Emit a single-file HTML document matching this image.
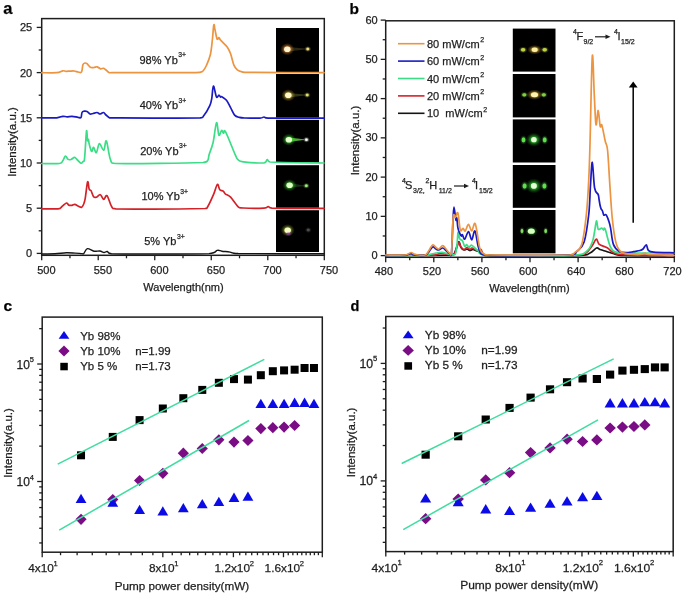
<!DOCTYPE html>
<html><head><meta charset="utf-8"><style>
html,body{margin:0;padding:0;background:#fff;overflow:hidden;}
svg{display:block;font-family:"Liberation Sans",sans-serif;will-change:transform;}
</style></head><body>
<svg width="685" height="596" viewBox="0 0 685 596" font-family="Liberation Sans, sans-serif">
<style>text{stroke:#1e1e1e;stroke-width:0.25px;}</style>
<rect width="685" height="596" fill="#fff"/>
<text x="3.30" y="14.00" font-size="16.5" text-anchor="start" font-weight="bold"  fill="#000">a</text>
<text x="349.50" y="14.30" font-size="15.5" text-anchor="start" font-weight="bold"  fill="#000">b</text>
<text x="3.60" y="310.80" font-size="15.5" text-anchor="start" font-weight="bold"  fill="#000">c</text>
<text x="350.40" y="310.80" font-size="14.5" text-anchor="start" font-weight="bold"  fill="#000">d</text>
<filter id="bl" x="-1" y="-1" width="3" height="3"><feGaussianBlur stdDeviation="0.7"/></filter>
<filter id="bl2" x="-1" y="-1" width="3" height="3"><feGaussianBlur stdDeviation="1.2"/></filter>
<rect x="276" y="28" width="43" height="44.2" fill="#000"/>
<rect x="276" y="74" width="43" height="43.599999999999994" fill="#000"/>
<rect x="276" y="119.8" width="43" height="42.8" fill="#000"/>
<rect x="276" y="165.2" width="43" height="42.60000000000002" fill="#000"/>
<rect x="276" y="210.2" width="43" height="41.80000000000001" fill="#000"/>
<polygon points="287.3,47.0 305.3,48.6 305.3,49.4 287.3,51.400000000000006" fill="#908040" opacity="0.3" filter="url(#bl)"/>
<radialGradient id="g12"><stop offset="0" stop-color="#ffa040" stop-opacity="1.0"/><stop offset="0.4" stop-color="#ffa040" stop-opacity="0.7"/><stop offset="0.7" stop-color="#ffa040" stop-opacity="0.25"/><stop offset="1" stop-color="#ffa040" stop-opacity="0"/></radialGradient>
<ellipse cx="287.3" cy="49.2" rx="7" ry="6.2" fill="url(#g12)"/>
<radialGradient id="g14"><stop offset="0" stop-color="#f0e080" stop-opacity="0.8"/><stop offset="0.4" stop-color="#f0e080" stop-opacity="0.5599999999999999"/><stop offset="0.7" stop-color="#f0e080" stop-opacity="0.2"/><stop offset="1" stop-color="#f0e080" stop-opacity="0"/></radialGradient>
<ellipse cx="307.8" cy="49" rx="3.5" ry="3" fill="url(#g14)"/>
<ellipse cx="287.3" cy="49.2" rx="3.2" ry="2.8" fill="#fff4d0" filter="url(#bl)"/>
<ellipse cx="307.8" cy="49" rx="1.3" ry="1.2" fill="#f0e080" filter="url(#bl)"/>
<polygon points="288.3,93.1 304.7,94.6 304.7,95.4 288.3,97.5" fill="#a0b040" opacity="0.3" filter="url(#bl)"/>
<radialGradient id="g19"><stop offset="0" stop-color="#e8c040" stop-opacity="1.0"/><stop offset="0.4" stop-color="#e8c040" stop-opacity="0.7"/><stop offset="0.7" stop-color="#e8c040" stop-opacity="0.25"/><stop offset="1" stop-color="#e8c040" stop-opacity="0"/></radialGradient>
<ellipse cx="288.3" cy="95.3" rx="7" ry="6.2" fill="url(#g19)"/>
<radialGradient id="g21"><stop offset="0" stop-color="#e0e070" stop-opacity="0.8"/><stop offset="0.4" stop-color="#e0e070" stop-opacity="0.5599999999999999"/><stop offset="0.7" stop-color="#e0e070" stop-opacity="0.2"/><stop offset="1" stop-color="#e0e070" stop-opacity="0"/></radialGradient>
<ellipse cx="307.2" cy="95" rx="3.5" ry="3" fill="url(#g21)"/>
<ellipse cx="288.3" cy="95.3" rx="3.2" ry="2.8" fill="#fff8c8" filter="url(#bl)"/>
<ellipse cx="307.2" cy="95" rx="1.3" ry="1.2" fill="#e0e070" filter="url(#bl)"/>
<polygon points="288.9,137.5 303.9,139.29999999999998 303.9,140.1 288.9,141.89999999999998" fill="#60d040" opacity="0.8" filter="url(#bl)"/>
<radialGradient id="g26"><stop offset="0" stop-color="#40e030" stop-opacity="1.0"/><stop offset="0.4" stop-color="#40e030" stop-opacity="0.7"/><stop offset="0.7" stop-color="#40e030" stop-opacity="0.25"/><stop offset="1" stop-color="#40e030" stop-opacity="0"/></radialGradient>
<ellipse cx="288.9" cy="139.7" rx="7" ry="6.2" fill="url(#g26)"/>
<radialGradient id="g28"><stop offset="0" stop-color="#f0fff0" stop-opacity="0.8"/><stop offset="0.4" stop-color="#f0fff0" stop-opacity="0.5599999999999999"/><stop offset="0.7" stop-color="#f0fff0" stop-opacity="0.2"/><stop offset="1" stop-color="#f0fff0" stop-opacity="0"/></radialGradient>
<ellipse cx="306.4" cy="139.7" rx="3.5" ry="3" fill="url(#g28)"/>
<ellipse cx="288.9" cy="139.7" rx="3.2" ry="2.8" fill="#e8ffd0" filter="url(#bl)"/>
<ellipse cx="306.4" cy="139.7" rx="1.3" ry="1.2" fill="#f0fff0" filter="url(#bl)"/>
<polygon points="289.6,183.10000000000002 303.8,185.4 303.8,186.20000000000002 289.6,187.5" fill="#40a030" opacity="0.3" filter="url(#bl)"/>
<radialGradient id="g33"><stop offset="0" stop-color="#40d030" stop-opacity="1.0"/><stop offset="0.4" stop-color="#40d030" stop-opacity="0.7"/><stop offset="0.7" stop-color="#40d030" stop-opacity="0.25"/><stop offset="1" stop-color="#40d030" stop-opacity="0"/></radialGradient>
<ellipse cx="289.6" cy="185.3" rx="7" ry="6.2" fill="url(#g33)"/>
<radialGradient id="g35"><stop offset="0" stop-color="#a0f080" stop-opacity="0.8"/><stop offset="0.4" stop-color="#a0f080" stop-opacity="0.5599999999999999"/><stop offset="0.7" stop-color="#a0f080" stop-opacity="0.2"/><stop offset="1" stop-color="#a0f080" stop-opacity="0"/></radialGradient>
<ellipse cx="306.3" cy="185.8" rx="3.5" ry="3" fill="url(#g35)"/>
<ellipse cx="289.6" cy="185.3" rx="3.2" ry="2.8" fill="#e0ffc8" filter="url(#bl)"/>
<ellipse cx="306.3" cy="185.8" rx="1.3" ry="1.2" fill="#a0f080" filter="url(#bl)"/>
<radialGradient id="g39"><stop offset="0" stop-color="#b0c040" stop-opacity="1.0"/><stop offset="0.4" stop-color="#b0c040" stop-opacity="0.7"/><stop offset="0.7" stop-color="#b0c040" stop-opacity="0.25"/><stop offset="1" stop-color="#b0c040" stop-opacity="0"/></radialGradient>
<ellipse cx="287.7" cy="230.2" rx="7" ry="6.2" fill="url(#g39)"/>
<radialGradient id="g41"><stop offset="0" stop-color="#505050" stop-opacity="0.8"/><stop offset="0.4" stop-color="#505050" stop-opacity="0.5599999999999999"/><stop offset="0.7" stop-color="#505050" stop-opacity="0.2"/><stop offset="1" stop-color="#505050" stop-opacity="0"/></radialGradient>
<ellipse cx="308.3" cy="230" rx="3.5" ry="3" fill="url(#g41)"/>
<ellipse cx="287.7" cy="230.2" rx="3.2" ry="2.8" fill="#f4ffc0" filter="url(#bl)"/>
<ellipse cx="308.3" cy="230" rx="1.3" ry="1.2" fill="#505050" filter="url(#bl)"/>
<radialGradient id="g45"><stop offset="0" stop-color="#a040c0" stop-opacity="0.8"/><stop offset="0.4" stop-color="#a040c0" stop-opacity="0.5599999999999999"/><stop offset="0.7" stop-color="#a040c0" stop-opacity="0.2"/><stop offset="1" stop-color="#a040c0" stop-opacity="0"/></radialGradient>
<ellipse cx="288.5" cy="233.8" rx="3.5" ry="2.5" fill="url(#g45)"/>
<rect x="41.7" y="18.6" width="282.6" height="236.70000000000002" fill="none" stroke="#1e1e1e" stroke-width="1.5"/>
<line x1="36.70" y1="253.40" x2="41.70" y2="253.40" stroke="#1e1e1e" stroke-width="1.3"/>
<text x="32.20" y="257.40" font-size="11" text-anchor="end" font-weight="normal" fill="#1e1e1e" >0</text>
<line x1="36.70" y1="208.20" x2="41.70" y2="208.20" stroke="#1e1e1e" stroke-width="1.3"/>
<text x="32.20" y="212.20" font-size="11" text-anchor="end" font-weight="normal" fill="#1e1e1e" >5</text>
<line x1="36.70" y1="163.00" x2="41.70" y2="163.00" stroke="#1e1e1e" stroke-width="1.3"/>
<text x="32.20" y="167.00" font-size="11" text-anchor="end" font-weight="normal" fill="#1e1e1e" >10</text>
<line x1="36.70" y1="117.80" x2="41.70" y2="117.80" stroke="#1e1e1e" stroke-width="1.3"/>
<text x="32.20" y="121.80" font-size="11" text-anchor="end" font-weight="normal" fill="#1e1e1e" >15</text>
<line x1="36.70" y1="72.60" x2="41.70" y2="72.60" stroke="#1e1e1e" stroke-width="1.3"/>
<text x="32.20" y="76.60" font-size="11" text-anchor="end" font-weight="normal" fill="#1e1e1e" >20</text>
<line x1="36.70" y1="27.40" x2="41.70" y2="27.40" stroke="#1e1e1e" stroke-width="1.3"/>
<text x="32.20" y="31.40" font-size="11" text-anchor="end" font-weight="normal" fill="#1e1e1e" >25</text>
<line x1="38.70" y1="230.80" x2="41.70" y2="230.80" stroke="#1e1e1e" stroke-width="1.3"/>
<line x1="38.70" y1="185.60" x2="41.70" y2="185.60" stroke="#1e1e1e" stroke-width="1.3"/>
<line x1="38.70" y1="140.40" x2="41.70" y2="140.40" stroke="#1e1e1e" stroke-width="1.3"/>
<line x1="38.70" y1="95.20" x2="41.70" y2="95.20" stroke="#1e1e1e" stroke-width="1.3"/>
<line x1="38.70" y1="50.00" x2="41.70" y2="50.00" stroke="#1e1e1e" stroke-width="1.3"/>
<line x1="41.70" y1="255.30" x2="41.70" y2="260.30" stroke="#1e1e1e" stroke-width="1.3"/>
<text x="46.40" y="273.80" font-size="11" text-anchor="middle" font-weight="normal" fill="#1e1e1e" >500</text>
<line x1="98.22" y1="255.30" x2="98.22" y2="260.30" stroke="#1e1e1e" stroke-width="1.3"/>
<text x="102.92" y="273.80" font-size="11" text-anchor="middle" font-weight="normal" fill="#1e1e1e" >550</text>
<line x1="154.74" y1="255.30" x2="154.74" y2="260.30" stroke="#1e1e1e" stroke-width="1.3"/>
<text x="159.44" y="273.80" font-size="11" text-anchor="middle" font-weight="normal" fill="#1e1e1e" >600</text>
<line x1="211.26" y1="255.30" x2="211.26" y2="260.30" stroke="#1e1e1e" stroke-width="1.3"/>
<text x="215.96" y="273.80" font-size="11" text-anchor="middle" font-weight="normal" fill="#1e1e1e" >650</text>
<line x1="267.78" y1="255.30" x2="267.78" y2="260.30" stroke="#1e1e1e" stroke-width="1.3"/>
<text x="272.48" y="273.80" font-size="11" text-anchor="middle" font-weight="normal" fill="#1e1e1e" >700</text>
<line x1="324.30" y1="255.30" x2="324.30" y2="260.30" stroke="#1e1e1e" stroke-width="1.3"/>
<text x="329.00" y="273.80" font-size="11" text-anchor="middle" font-weight="normal" fill="#1e1e1e" >750</text>
<line x1="69.96" y1="255.30" x2="69.96" y2="258.30" stroke="#1e1e1e" stroke-width="1.3"/>
<line x1="126.48" y1="255.30" x2="126.48" y2="258.30" stroke="#1e1e1e" stroke-width="1.3"/>
<line x1="183.00" y1="255.30" x2="183.00" y2="258.30" stroke="#1e1e1e" stroke-width="1.3"/>
<line x1="239.52" y1="255.30" x2="239.52" y2="258.30" stroke="#1e1e1e" stroke-width="1.3"/>
<line x1="296.04" y1="255.30" x2="296.04" y2="258.30" stroke="#1e1e1e" stroke-width="1.3"/>
<text x="183.50" y="291.00" font-size="11" text-anchor="middle" font-weight="normal" fill="#1e1e1e" >Wavelength(nm)</text>
<text x="0.00" y="0.00" font-size="11.5" text-anchor="middle" font-weight="normal" fill="#1e1e1e" transform="translate(16.2,142) rotate(-90)">Intensity(a.u.)</text>
<g transform="translate(0,0.5)">
<path d="M41.70,253.50 C43.92,253.47 50.90,253.50 55.00,253.30 C59.10,253.10 62.97,252.42 66.30,252.30 C69.63,252.18 72.38,252.47 75.00,252.60 C77.62,252.73 80.53,253.03 82.00,253.10 C83.47,253.17 82.90,253.83 83.80,253.00 C84.70,252.17 85.70,248.48 87.40,248.10 C89.10,247.72 91.92,250.30 94.00,250.70 C96.08,251.10 98.23,250.28 99.90,250.50 C101.57,250.72 102.78,251.92 104.00,252.00 C105.22,252.08 105.95,250.78 107.20,251.00 C108.45,251.22 107.20,252.95 111.50,253.30 C128.47,253.65 191.38,253.67 209.00,253.10 C217.20,252.53 215.05,250.30 217.20,249.90 C219.35,249.50 219.77,250.42 221.90,250.70 C224.03,250.98 227.28,251.22 230.00,251.60 C232.72,251.98 230.00,252.72 238.20,253.00 C253.87,253.28 309.70,253.25 324.00,253.30" fill="none" stroke="#141414" stroke-width="1.4" stroke-linejoin="round" stroke-linecap="round" />
<path d="M41.70,208.30 C44.42,208.30 54.62,208.68 58.00,208.30 C61.38,207.92 60.60,206.97 62.00,206.00 C63.40,205.03 65.27,202.73 66.40,202.50 C67.53,202.27 67.87,204.22 68.80,204.60 C69.73,204.98 71.00,204.93 72.00,204.80 C73.00,204.67 73.80,203.68 74.80,203.80 C75.80,203.92 76.88,204.98 78.00,205.50 C79.12,206.02 80.58,207.15 81.50,206.90 C82.42,206.65 82.88,205.45 83.50,204.00 C84.12,202.55 84.52,201.97 85.20,198.20 C85.88,194.43 86.93,182.97 87.60,181.40 C88.27,179.83 88.63,187.35 89.20,188.80 C89.77,190.25 90.27,188.87 91.00,190.10 C91.73,191.33 92.72,195.08 93.60,196.20 C94.48,197.32 95.18,197.13 96.30,196.80 C97.42,196.47 99.07,193.85 100.30,194.20 C101.53,194.55 102.58,198.73 103.70,198.90 C104.82,199.07 105.67,193.98 107.00,195.20 C108.33,196.42 110.23,204.02 111.70,206.20 C113.17,208.38 111.70,208.00 115.80,208.30 C131.35,208.60 189.67,208.38 205.00,208.00 C207.80,207.62 206.33,208.45 207.80,206.00 C209.27,203.55 212.20,196.98 213.80,193.30 C215.40,189.62 216.40,184.57 217.40,183.90 C218.40,183.23 218.83,188.18 219.80,189.30 C220.77,190.42 222.30,189.93 223.20,190.60 C224.10,191.27 223.97,192.28 225.20,193.30 C226.43,194.32 228.47,194.57 230.60,196.70 C232.73,198.83 235.88,204.30 238.00,206.10 C240.12,207.90 238.97,207.25 243.30,207.50 C247.63,207.75 259.85,207.83 264.00,207.60 C268.15,207.37 266.87,206.10 268.20,206.10 C269.53,206.10 268.20,207.32 272.00,207.60 C281.30,207.88 315.33,207.77 324.00,207.80" fill="none" stroke="#D42128" stroke-width="1.7" stroke-linejoin="round" stroke-linecap="round" />
<path d="M41.70,163.00 C44.65,163.00 55.88,163.45 59.40,163.00 C62.80,162.55 61.80,161.53 62.80,160.30 C63.80,159.07 64.52,155.83 65.40,155.60 C66.28,155.37 67.17,158.33 68.10,158.90 C69.03,159.47 69.95,159.33 71.00,159.00 C72.05,158.67 73.40,156.90 74.40,156.90 C75.40,156.90 75.92,158.03 77.00,159.00 C78.08,159.97 79.90,162.37 80.90,162.70 C81.90,163.03 82.38,161.85 83.00,161.00 C83.62,160.15 84.02,162.68 84.60,157.60 C85.18,152.52 86.02,133.43 86.50,130.50 C86.98,127.57 87.17,138.58 87.50,140.00 C87.83,141.42 88.22,138.42 88.50,139.00 C88.78,139.58 88.68,141.52 89.20,143.50 C89.72,145.48 90.87,150.35 91.60,150.90 C92.33,151.45 92.82,146.58 93.60,146.80 C94.38,147.02 95.33,152.82 96.30,152.20 C97.27,151.58 98.17,143.50 99.40,143.10 C100.63,142.70 102.53,150.25 103.70,149.80 C104.87,149.35 105.28,138.88 106.40,140.40 C107.52,141.92 108.83,155.13 110.40,158.90 C111.97,162.67 110.40,162.48 115.80,163.00 C131.23,163.52 187.67,162.53 203.00,162.00 C207.80,161.47 206.78,161.10 207.80,159.80 C208.82,158.50 208.22,157.17 209.10,154.20 C209.98,151.23 211.87,147.33 213.10,142.00 C214.33,136.67 215.53,123.42 216.50,122.20 C217.47,120.98 218.05,133.40 218.90,134.70 C219.75,136.00 220.83,130.33 221.60,130.00 C222.37,129.67 222.83,132.47 223.50,132.70 C224.17,132.93 223.63,127.78 225.60,131.40 C227.57,135.02 233.23,149.78 235.30,154.40 C237.37,159.02 236.67,157.93 238.00,159.10 C239.33,160.27 238.97,160.87 243.30,161.40 C247.63,161.93 260.02,162.68 264.00,162.30 C267.20,161.92 266.20,159.23 267.20,159.10 C268.20,158.97 267.20,160.93 270.00,161.50 C279.47,162.07 315.00,162.33 324.00,162.50" fill="none" stroke="#3BDE86" stroke-width="1.7" stroke-linejoin="round" stroke-linecap="round" />
<path d="M41.70,117.40 C44.20,117.38 53.20,117.57 56.70,117.30 C60.20,117.03 60.98,115.97 62.70,115.80 C64.42,115.63 65.45,116.30 67.00,116.30 C68.55,116.30 70.17,115.72 72.00,115.80 C73.83,115.88 76.50,116.60 78.00,116.80 C79.50,117.00 80.33,117.80 81.00,117.00 C81.67,116.20 81.50,113.05 82.00,112.00 C82.50,110.95 83.17,110.88 84.00,110.70 C84.83,110.52 86.00,110.43 87.00,110.90 C88.00,111.37 89.00,113.15 90.00,113.50 C91.00,113.85 91.83,113.25 93.00,113.00 C94.17,112.75 95.83,111.92 97.00,112.00 C98.17,112.08 98.92,113.50 100.00,113.50 C101.08,113.50 102.50,111.83 103.50,112.00 C104.50,112.17 105.08,113.67 106.00,114.50 C106.92,115.33 108.00,116.53 109.00,117.00 C110.00,117.47 109.00,117.23 112.00,117.30 C127.17,117.37 184.72,117.73 200.00,117.40 C203.70,117.07 202.07,117.33 203.70,115.30 C205.33,113.27 208.45,108.12 209.80,105.20 C211.15,102.28 211.20,101.08 211.80,97.80 C212.40,94.52 212.62,85.72 213.40,85.50 C214.18,85.28 215.58,95.00 216.50,96.50 C217.42,98.00 218.23,94.50 218.90,94.50 C219.57,94.50 220.02,96.22 220.50,96.50 C220.98,96.78 220.80,95.65 221.80,96.20 C222.80,96.75 225.03,97.97 226.50,99.80 C227.97,101.63 229.25,104.73 230.60,107.20 C231.95,109.67 233.15,112.98 234.60,114.60 C236.05,116.22 237.57,116.42 239.30,116.90 C241.03,117.38 241.55,117.38 245.00,117.50 C248.45,117.62 256.83,117.77 260.00,117.60 C263.17,117.43 262.67,116.50 264.00,116.50 C265.33,116.50 264.00,117.40 268.00,117.60 C278.00,117.80 314.67,117.68 324.00,117.70" fill="none" stroke="#1A1AC4" stroke-width="1.7" stroke-linejoin="round" stroke-linecap="round" />
<path d="M41.70,72.20 C44.20,72.20 53.19,72.52 56.70,72.20 C60.21,71.88 61.20,70.53 62.75,70.30 C64.30,70.07 64.79,70.75 66.00,70.80 C67.21,70.85 68.67,70.65 70.00,70.60 C71.33,70.55 72.67,70.35 74.00,70.50 C75.33,70.65 76.85,71.25 78.00,71.50 C79.15,71.75 80.23,72.25 80.90,72.00 C81.57,71.75 81.65,71.33 82.00,70.00 C82.35,68.67 82.47,65.25 83.00,64.00 C83.53,62.75 84.53,62.63 85.20,62.50 C85.87,62.37 86.15,62.48 87.00,63.20 C87.85,63.92 89.13,66.17 90.30,66.80 C91.47,67.43 92.88,67.08 94.00,67.00 C95.12,66.92 95.92,66.08 97.00,66.30 C98.08,66.52 99.38,68.05 100.50,68.30 C101.62,68.55 102.78,67.60 103.70,67.80 C104.62,68.00 105.12,68.80 106.00,69.50 C106.88,70.20 108.00,71.55 109.00,72.00 C110.00,72.45 109.00,72.18 112.00,72.20 C126.33,72.22 180.33,72.17 195.00,72.10 C200.00,72.03 198.67,72.07 200.00,71.80 C201.33,71.53 201.93,71.63 203.00,70.50 C204.07,69.37 205.17,67.75 206.40,65.00 C207.63,62.25 209.40,58.33 210.40,54.00 C211.40,49.67 211.83,43.93 212.40,39.00 C212.97,34.07 213.35,25.93 213.80,24.40 C214.25,22.87 214.55,27.45 215.10,29.80 C215.65,32.15 216.47,37.30 217.10,38.50 C217.73,39.70 218.33,36.83 218.90,37.00 C219.47,37.17 219.12,37.92 220.50,39.50 C221.88,41.08 225.52,44.20 227.20,46.50 C228.88,48.80 229.48,50.27 230.60,53.30 C231.72,56.33 232.78,62.02 233.90,64.70 C235.02,67.38 235.95,68.28 237.30,69.40 C238.65,70.52 239.88,70.98 242.00,71.40 C244.12,71.82 242.00,71.77 250.00,71.90 C263.67,72.03 311.67,72.15 324.00,72.20" fill="none" stroke="#EC9440" stroke-width="1.7" stroke-linejoin="round" stroke-linecap="round" />
</g>
<text x="139.5" y="64" font-size="11" fill="#1e1e1e">98% Yb<tspan font-size="6.8" dy="-6.6" dx="0.5">3+</tspan></text>
<text x="139.7" y="109.3" font-size="11" fill="#1e1e1e">40% Yb<tspan font-size="6.8" dy="-6.6" dx="0.5">3+</tspan></text>
<text x="140.2" y="154.8" font-size="11" fill="#1e1e1e">20% Yb<tspan font-size="6.8" dy="-6.6" dx="0.5">3+</tspan></text>
<text x="141.5" y="200.1" font-size="11" fill="#1e1e1e">10% Yb<tspan font-size="6.8" dy="-6.6" dx="0.5">3+</tspan></text>
<text x="144.2" y="245.3" font-size="11" fill="#1e1e1e">5% Yb<tspan font-size="6.8" dy="-6.6" dx="0.5">3+</tspan></text>
<rect x="512.8" y="28.6" width="42.7" height="42.99999999999999" fill="#000"/>
<rect x="512.8" y="74" width="42.7" height="43.400000000000006" fill="#000"/>
<rect x="512.8" y="119.4" width="42.7" height="43.099999999999994" fill="#000"/>
<rect x="512.8" y="165" width="42.7" height="42.80000000000001" fill="#000"/>
<rect x="512.8" y="210" width="42.7" height="43.30000000000001" fill="#000"/>
<radialGradient id="g101"><stop offset="0" stop-color="#e0b030" stop-opacity="1.0"/><stop offset="0.4" stop-color="#e0b030" stop-opacity="0.7"/><stop offset="0.7" stop-color="#e0b030" stop-opacity="0.25"/><stop offset="1" stop-color="#e0b030" stop-opacity="0"/></radialGradient>
<ellipse cx="534.7" cy="49.7" rx="7.5" ry="4.8" fill="url(#g101)"/>
<radialGradient id="g103"><stop offset="0" stop-color="#c0d040" stop-opacity="0.8"/><stop offset="0.4" stop-color="#c0d040" stop-opacity="0.5599999999999999"/><stop offset="0.7" stop-color="#c0d040" stop-opacity="0.2"/><stop offset="1" stop-color="#c0d040" stop-opacity="0"/></radialGradient>
<ellipse cx="523.1" cy="49.8" rx="4.4" ry="3.4" fill="url(#g103)"/>
<radialGradient id="g105"><stop offset="0" stop-color="#c0d040" stop-opacity="0.8"/><stop offset="0.4" stop-color="#c0d040" stop-opacity="0.5599999999999999"/><stop offset="0.7" stop-color="#c0d040" stop-opacity="0.2"/><stop offset="1" stop-color="#c0d040" stop-opacity="0"/></radialGradient>
<ellipse cx="544.7" cy="49.8" rx="4.4" ry="3.4" fill="url(#g105)"/>
<ellipse cx="534.7" cy="49.7" rx="3" ry="2.2" fill="#fff0a0" filter="url(#bl)"/>
<ellipse cx="523.1" cy="49.8" rx="2.2" ry="1.7" fill="#c0d040" filter="url(#bl)"/>
<ellipse cx="544.7" cy="49.8" rx="2.2" ry="1.7" fill="#c0d040" filter="url(#bl)"/>
<radialGradient id="g110"><stop offset="0" stop-color="#e8b830" stop-opacity="1.0"/><stop offset="0.4" stop-color="#e8b830" stop-opacity="0.7"/><stop offset="0.7" stop-color="#e8b830" stop-opacity="0.25"/><stop offset="1" stop-color="#e8b830" stop-opacity="0"/></radialGradient>
<ellipse cx="534.5" cy="94.7" rx="8" ry="5.2" fill="url(#g110)"/>
<radialGradient id="g112"><stop offset="0" stop-color="#80d040" stop-opacity="0.8"/><stop offset="0.4" stop-color="#80d040" stop-opacity="0.5599999999999999"/><stop offset="0.7" stop-color="#80d040" stop-opacity="0.2"/><stop offset="1" stop-color="#80d040" stop-opacity="0"/></radialGradient>
<ellipse cx="524.3" cy="94.8" rx="4.0" ry="3.2" fill="url(#g112)"/>
<radialGradient id="g114"><stop offset="0" stop-color="#80d040" stop-opacity="0.8"/><stop offset="0.4" stop-color="#80d040" stop-opacity="0.5599999999999999"/><stop offset="0.7" stop-color="#80d040" stop-opacity="0.2"/><stop offset="1" stop-color="#80d040" stop-opacity="0"/></radialGradient>
<ellipse cx="543.8" cy="94.8" rx="4.0" ry="3.2" fill="url(#g114)"/>
<ellipse cx="534.5" cy="94.7" rx="3.6" ry="2.5" fill="#fff4b0" filter="url(#bl)"/>
<ellipse cx="524.3" cy="94.8" rx="2.0" ry="1.6" fill="#80d040" filter="url(#bl)"/>
<ellipse cx="543.8" cy="94.8" rx="2.0" ry="1.6" fill="#80d040" filter="url(#bl)"/>
<radialGradient id="g119"><stop offset="0" stop-color="#30d030" stop-opacity="1.0"/><stop offset="0.4" stop-color="#30d030" stop-opacity="0.7"/><stop offset="0.7" stop-color="#30d030" stop-opacity="0.25"/><stop offset="1" stop-color="#30d030" stop-opacity="0"/></radialGradient>
<ellipse cx="533.9" cy="139.7" rx="8" ry="7" fill="url(#g119)"/>
<radialGradient id="g121"><stop offset="0" stop-color="#60e050" stop-opacity="0.8"/><stop offset="0.4" stop-color="#60e050" stop-opacity="0.5599999999999999"/><stop offset="0.7" stop-color="#60e050" stop-opacity="0.2"/><stop offset="1" stop-color="#60e050" stop-opacity="0"/></radialGradient>
<ellipse cx="523.5" cy="139.9" rx="3.6" ry="4.8" fill="url(#g121)"/>
<radialGradient id="g123"><stop offset="0" stop-color="#60e050" stop-opacity="0.8"/><stop offset="0.4" stop-color="#60e050" stop-opacity="0.5599999999999999"/><stop offset="0.7" stop-color="#60e050" stop-opacity="0.2"/><stop offset="1" stop-color="#60e050" stop-opacity="0"/></radialGradient>
<ellipse cx="544.7" cy="139.9" rx="3.6" ry="4.8" fill="url(#g123)"/>
<ellipse cx="533.9" cy="139.7" rx="2.8" ry="2.6" fill="#e8ffd8" filter="url(#bl)"/>
<ellipse cx="523.5" cy="139.9" rx="1.8" ry="2.4" fill="#60e050" filter="url(#bl)"/>
<ellipse cx="544.7" cy="139.9" rx="1.8" ry="2.4" fill="#60e050" filter="url(#bl)"/>
<radialGradient id="g128"><stop offset="0" stop-color="#30d030" stop-opacity="1.0"/><stop offset="0.4" stop-color="#30d030" stop-opacity="0.7"/><stop offset="0.7" stop-color="#30d030" stop-opacity="0.25"/><stop offset="1" stop-color="#30d030" stop-opacity="0"/></radialGradient>
<ellipse cx="533.9" cy="185.9" rx="8.5" ry="7.5" fill="url(#g128)"/>
<radialGradient id="g130"><stop offset="0" stop-color="#60e050" stop-opacity="0.8"/><stop offset="0.4" stop-color="#60e050" stop-opacity="0.5599999999999999"/><stop offset="0.7" stop-color="#60e050" stop-opacity="0.2"/><stop offset="1" stop-color="#60e050" stop-opacity="0"/></radialGradient>
<ellipse cx="524.6" cy="185.9" rx="3.8" ry="5.0" fill="url(#g130)"/>
<radialGradient id="g132"><stop offset="0" stop-color="#60e050" stop-opacity="0.8"/><stop offset="0.4" stop-color="#60e050" stop-opacity="0.5599999999999999"/><stop offset="0.7" stop-color="#60e050" stop-opacity="0.2"/><stop offset="1" stop-color="#60e050" stop-opacity="0"/></radialGradient>
<ellipse cx="544.4" cy="185.9" rx="3.8" ry="5.0" fill="url(#g132)"/>
<ellipse cx="533.9" cy="185.9" rx="3" ry="2.8" fill="#e8ffd8" filter="url(#bl)"/>
<ellipse cx="524.6" cy="185.9" rx="1.9" ry="2.5" fill="#60e050" filter="url(#bl)"/>
<ellipse cx="544.4" cy="185.9" rx="1.9" ry="2.5" fill="#60e050" filter="url(#bl)"/>
<radialGradient id="g137"><stop offset="0" stop-color="#30c030" stop-opacity="1.0"/><stop offset="0.4" stop-color="#30c030" stop-opacity="0.7"/><stop offset="0.7" stop-color="#30c030" stop-opacity="0.25"/><stop offset="1" stop-color="#30c030" stop-opacity="0"/></radialGradient>
<ellipse cx="531.3" cy="231.2" rx="6.5" ry="5" fill="url(#g137)"/>
<radialGradient id="g139"><stop offset="0" stop-color="#80e060" stop-opacity="0.8"/><stop offset="0.4" stop-color="#80e060" stop-opacity="0.5599999999999999"/><stop offset="0.7" stop-color="#80e060" stop-opacity="0.2"/><stop offset="1" stop-color="#80e060" stop-opacity="0"/></radialGradient>
<ellipse cx="522" cy="231" rx="2.6" ry="4.0" fill="url(#g139)"/>
<radialGradient id="g141"><stop offset="0" stop-color="#80e060" stop-opacity="0.8"/><stop offset="0.4" stop-color="#80e060" stop-opacity="0.5599999999999999"/><stop offset="0.7" stop-color="#80e060" stop-opacity="0.2"/><stop offset="1" stop-color="#80e060" stop-opacity="0"/></radialGradient>
<ellipse cx="545.7" cy="231" rx="2.6" ry="4.0" fill="url(#g141)"/>
<ellipse cx="531.3" cy="231.2" rx="3.5" ry="2.6" fill="#d8ffc0" filter="url(#bl)"/>
<ellipse cx="522" cy="231" rx="1.3" ry="2.0" fill="#80e060" filter="url(#bl)"/>
<ellipse cx="545.7" cy="231" rx="1.3" ry="2.0" fill="#80e060" filter="url(#bl)"/>
<rect x="385.7" y="20.8" width="288.59999999999997" height="236.5" fill="none" stroke="#1e1e1e" stroke-width="1.5"/>
<line x1="380.70" y1="255.60" x2="385.70" y2="255.60" stroke="#1e1e1e" stroke-width="1.3"/>
<text x="377.70" y="259.00" font-size="11" text-anchor="end" font-weight="normal" fill="#1e1e1e" >0</text>
<line x1="380.70" y1="216.35" x2="385.70" y2="216.35" stroke="#1e1e1e" stroke-width="1.3"/>
<text x="377.70" y="219.75" font-size="11" text-anchor="end" font-weight="normal" fill="#1e1e1e" >10</text>
<line x1="380.70" y1="177.10" x2="385.70" y2="177.10" stroke="#1e1e1e" stroke-width="1.3"/>
<text x="377.70" y="180.50" font-size="11" text-anchor="end" font-weight="normal" fill="#1e1e1e" >20</text>
<line x1="380.70" y1="137.85" x2="385.70" y2="137.85" stroke="#1e1e1e" stroke-width="1.3"/>
<text x="377.70" y="141.25" font-size="11" text-anchor="end" font-weight="normal" fill="#1e1e1e" >30</text>
<line x1="380.70" y1="98.60" x2="385.70" y2="98.60" stroke="#1e1e1e" stroke-width="1.3"/>
<text x="377.70" y="102.00" font-size="11" text-anchor="end" font-weight="normal" fill="#1e1e1e" >40</text>
<line x1="380.70" y1="59.35" x2="385.70" y2="59.35" stroke="#1e1e1e" stroke-width="1.3"/>
<text x="377.70" y="62.75" font-size="11" text-anchor="end" font-weight="normal" fill="#1e1e1e" >50</text>
<line x1="380.70" y1="20.10" x2="385.70" y2="20.10" stroke="#1e1e1e" stroke-width="1.3"/>
<text x="377.70" y="23.50" font-size="11" text-anchor="end" font-weight="normal" fill="#1e1e1e" >60</text>
<line x1="382.70" y1="235.97" x2="385.70" y2="235.97" stroke="#1e1e1e" stroke-width="1.3"/>
<line x1="382.70" y1="196.72" x2="385.70" y2="196.72" stroke="#1e1e1e" stroke-width="1.3"/>
<line x1="382.70" y1="157.47" x2="385.70" y2="157.47" stroke="#1e1e1e" stroke-width="1.3"/>
<line x1="382.70" y1="118.22" x2="385.70" y2="118.22" stroke="#1e1e1e" stroke-width="1.3"/>
<line x1="382.70" y1="78.97" x2="385.70" y2="78.97" stroke="#1e1e1e" stroke-width="1.3"/>
<line x1="382.70" y1="39.72" x2="385.70" y2="39.72" stroke="#1e1e1e" stroke-width="1.3"/>
<line x1="385.70" y1="257.30" x2="385.70" y2="262.30" stroke="#1e1e1e" stroke-width="1.3"/>
<text x="383.90" y="274.60" font-size="11" text-anchor="middle" font-weight="normal" fill="#1e1e1e" >480</text>
<line x1="433.80" y1="257.30" x2="433.80" y2="262.30" stroke="#1e1e1e" stroke-width="1.3"/>
<text x="432.00" y="274.60" font-size="11" text-anchor="middle" font-weight="normal" fill="#1e1e1e" >520</text>
<line x1="481.90" y1="257.30" x2="481.90" y2="262.30" stroke="#1e1e1e" stroke-width="1.3"/>
<text x="480.10" y="274.60" font-size="11" text-anchor="middle" font-weight="normal" fill="#1e1e1e" >560</text>
<line x1="530.00" y1="257.30" x2="530.00" y2="262.30" stroke="#1e1e1e" stroke-width="1.3"/>
<text x="528.20" y="274.60" font-size="11" text-anchor="middle" font-weight="normal" fill="#1e1e1e" >600</text>
<line x1="578.10" y1="257.30" x2="578.10" y2="262.30" stroke="#1e1e1e" stroke-width="1.3"/>
<text x="576.30" y="274.60" font-size="11" text-anchor="middle" font-weight="normal" fill="#1e1e1e" >640</text>
<line x1="626.20" y1="257.30" x2="626.20" y2="262.30" stroke="#1e1e1e" stroke-width="1.3"/>
<text x="624.40" y="274.60" font-size="11" text-anchor="middle" font-weight="normal" fill="#1e1e1e" >680</text>
<line x1="674.30" y1="257.30" x2="674.30" y2="262.30" stroke="#1e1e1e" stroke-width="1.3"/>
<text x="672.50" y="274.60" font-size="11" text-anchor="middle" font-weight="normal" fill="#1e1e1e" >720</text>
<line x1="409.75" y1="257.30" x2="409.75" y2="260.30" stroke="#1e1e1e" stroke-width="1.3"/>
<line x1="457.85" y1="257.30" x2="457.85" y2="260.30" stroke="#1e1e1e" stroke-width="1.3"/>
<line x1="505.95" y1="257.30" x2="505.95" y2="260.30" stroke="#1e1e1e" stroke-width="1.3"/>
<line x1="554.05" y1="257.30" x2="554.05" y2="260.30" stroke="#1e1e1e" stroke-width="1.3"/>
<line x1="602.15" y1="257.30" x2="602.15" y2="260.30" stroke="#1e1e1e" stroke-width="1.3"/>
<line x1="650.25" y1="257.30" x2="650.25" y2="260.30" stroke="#1e1e1e" stroke-width="1.3"/>
<text x="529.50" y="292.40" font-size="11" text-anchor="middle" font-weight="normal" fill="#1e1e1e" >Wavelength(nm)</text>
<text x="0.00" y="0.00" font-size="11.5" text-anchor="middle" font-weight="normal" fill="#1e1e1e" transform="translate(359,140.5) rotate(-90)">Intensity(a.u.)</text>
<path d="M385.70,255.50 C396.75,255.42 440.45,255.58 452.00,255.00 C455.00,254.42 453.90,254.17 455.00,252.00 C456.10,249.83 457.60,242.75 458.60,242.00 C459.60,241.25 460.10,246.17 461.00,247.50 C461.90,248.83 463.00,249.75 464.00,250.00 C465.00,250.25 466.00,248.92 467.00,249.00 C468.00,249.08 469.00,250.42 470.00,250.50 C471.00,250.58 471.83,249.42 473.00,249.50 C474.17,249.58 475.67,250.75 477.00,251.00 C478.33,251.25 479.67,250.25 481.00,251.00 C482.33,251.75 481.00,254.75 485.00,255.50 C501.50,256.25 562.50,255.92 580.00,255.50 C590.00,255.08 587.25,254.25 590.00,253.00 C592.75,251.75 594.83,248.58 596.50,248.00 C598.17,247.42 598.58,249.00 600.00,249.50 C601.42,250.00 602.83,250.33 605.00,251.00 C607.17,251.67 609.67,252.75 613.00,253.50 C616.33,254.25 614.83,255.17 625.00,255.50 C635.17,255.83 665.83,255.50 674.00,255.50" fill="none" stroke="#141414" stroke-width="1.7" stroke-linejoin="round" stroke-linecap="round" />
<path d="M385.70,255.50 C393.08,255.50 420.95,255.83 430.00,255.50 C439.05,255.17 436.33,253.67 440.00,253.50 C443.67,253.33 449.50,254.58 452.00,254.50 C454.50,254.42 453.90,254.92 455.00,253.00 C456.10,251.08 457.60,244.00 458.60,243.00 C459.60,242.00 460.10,245.90 461.00,247.00 C461.90,248.10 463.00,249.52 464.00,249.60 C465.00,249.68 466.00,247.52 467.00,247.50 C468.00,247.48 469.17,249.42 470.00,249.50 C470.83,249.58 470.83,247.83 472.00,248.00 C473.17,248.17 475.50,250.25 477.00,250.50 C478.50,250.75 479.67,248.75 481.00,249.50 C482.33,250.25 481.00,254.08 485.00,255.00 C500.67,255.92 558.17,255.33 575.00,255.00 C586.00,254.67 583.17,254.50 586.00,253.00 C588.83,251.50 590.28,248.30 592.00,246.00 C593.72,243.70 595.08,239.47 596.30,239.20 C597.52,238.93 597.42,242.93 599.30,244.40 C601.18,245.87 605.25,246.63 607.60,248.00 C609.95,249.37 610.50,251.43 613.40,252.60 C616.30,253.77 614.90,254.52 625.00,255.00 C635.10,255.48 665.83,255.42 674.00,255.50" fill="none" stroke="#D42128" stroke-width="1.7" stroke-linejoin="round" stroke-linecap="round" />
<path d="M385.70,255.50 C392.25,255.50 417.62,255.70 425.00,255.50 C430.00,255.30 428.17,254.72 430.00,254.30 C431.83,253.88 434.00,253.33 436.00,253.00 C438.00,252.67 439.83,252.10 442.00,252.30 C444.17,252.50 447.17,253.78 449.00,254.20 C450.83,254.62 451.93,254.83 453.00,254.80 C454.07,254.77 454.73,255.63 455.40,254.00 C456.07,252.37 456.55,248.65 457.00,245.00 C457.45,241.35 457.65,233.15 458.10,232.10 C458.55,231.05 458.97,237.23 459.70,238.70 C460.43,240.17 461.67,239.63 462.50,240.90 C463.33,242.17 463.98,245.67 464.70,246.30 C465.42,246.93 466.08,244.52 466.80,244.70 C467.52,244.88 468.18,247.32 469.00,247.40 C469.82,247.48 470.23,244.65 471.70,245.20 C473.17,245.75 475.75,249.07 477.80,250.70 C479.85,252.33 477.80,254.23 484.00,255.00 C499.37,255.77 552.93,255.90 570.00,255.30 C586.40,254.70 582.68,253.62 586.40,251.40 C590.12,249.18 590.95,245.23 592.30,242.00 C593.65,238.77 593.80,235.50 594.50,232.00 C595.20,228.50 595.88,221.47 596.50,221.00 C597.12,220.53 597.33,228.03 598.20,229.20 C599.07,230.37 600.82,227.87 601.70,228.00 C602.58,228.13 602.92,229.80 603.50,230.00 C604.08,230.20 603.95,226.20 605.20,229.20 C606.45,232.20 608.53,244.03 611.00,248.00 C613.47,251.97 615.17,252.17 620.00,253.00 C624.83,253.83 631.00,253.00 640.00,253.00 C649.00,253.00 668.33,253.00 674.00,253.00" fill="none" stroke="#3BDE86" stroke-width="1.7" stroke-linejoin="round" stroke-linecap="round" />
<path d="M385.70,255.30 C388.92,255.30 401.28,255.43 405.00,255.30 C408.00,255.17 406.97,254.80 408.00,254.50 C409.03,254.20 410.20,253.42 411.20,253.50 C412.20,253.58 411.70,254.72 414.00,255.00 C416.30,255.28 422.67,255.53 425.00,255.20 C427.33,254.87 426.73,254.37 428.00,253.00 C429.27,251.63 431.27,247.67 432.60,247.00 C433.93,246.33 434.98,248.50 436.00,249.00 C437.02,249.50 437.58,250.17 438.70,250.00 C439.82,249.83 441.48,247.92 442.70,248.00 C443.92,248.08 444.88,249.58 446.00,250.50 C447.12,251.42 448.48,253.08 449.40,253.50 C450.32,253.92 450.90,258.58 451.50,253.00 C452.10,247.42 452.58,227.67 453.00,220.00 C453.42,212.33 453.52,206.98 454.00,207.00 C454.48,207.02 455.43,218.27 455.90,220.10 C456.37,221.93 456.47,216.72 456.80,218.00 C457.13,219.28 457.42,225.27 457.90,227.80 C458.38,230.33 459.12,231.83 459.70,233.20 C460.28,234.57 460.93,235.73 461.40,236.00 C461.87,236.27 461.95,234.27 462.50,234.80 C463.05,235.33 463.70,239.73 464.70,239.20 C465.70,238.67 467.33,231.50 468.50,231.60 C469.67,231.70 470.62,239.90 471.70,239.80 C472.78,239.70 473.82,229.55 475.00,231.00 C476.18,232.45 477.13,244.50 478.80,248.50 C480.47,252.50 478.80,253.92 485.00,255.00 C500.20,256.08 554.67,255.60 570.00,255.00 C577.00,254.40 574.65,253.57 577.00,251.40 C579.35,249.23 582.13,248.23 584.10,242.00 C586.07,235.77 587.73,223.50 588.80,214.00 C589.87,204.50 589.92,193.62 590.50,185.00 C591.08,176.38 591.62,161.80 592.30,162.30 C592.98,162.80 593.62,182.62 594.60,188.00 C595.58,193.38 597.47,192.77 598.20,194.60 C598.93,196.43 598.70,197.27 599.00,199.00 C599.30,200.73 599.67,203.40 600.00,205.00 C600.33,206.60 600.58,207.60 601.00,208.60 C601.42,209.60 602.03,209.92 602.50,211.00 C602.97,212.08 603.28,214.50 603.80,215.10 C604.32,215.70 605.05,214.35 605.60,214.60 C606.15,214.85 606.52,215.35 607.10,216.60 C607.68,217.85 608.52,220.17 609.10,222.10 C609.68,224.03 609.88,224.48 610.60,228.20 C611.32,231.92 611.95,240.53 613.40,244.40 C614.85,248.27 616.87,250.05 619.30,251.40 C621.73,252.75 625.62,252.47 628.00,252.50 C630.38,252.53 631.60,251.93 633.60,251.60 C635.60,251.27 638.43,250.93 640.00,250.50 C641.57,250.07 641.95,249.95 643.00,249.00 C644.05,248.05 645.42,244.60 646.30,244.80 C647.18,245.00 647.07,248.97 648.30,250.20 C649.53,251.43 649.42,251.77 653.70,252.20 C657.98,252.63 670.62,252.70 674.00,252.80" fill="none" stroke="#1A1AC4" stroke-width="1.7" stroke-linejoin="round" stroke-linecap="round" />
<path d="M385.70,255.00 C388.92,255.00 401.28,255.17 405.00,255.00 C408.00,254.83 406.97,254.42 408.00,254.00 C409.03,253.58 410.20,252.50 411.20,252.50 C412.20,252.50 412.87,253.58 414.00,254.00 C415.13,254.42 416.17,254.83 418.00,255.00 C419.83,255.17 423.33,255.50 425.00,255.00 C426.67,254.50 426.73,253.67 428.00,252.00 C429.27,250.33 431.27,245.75 432.60,245.00 C433.93,244.25 434.98,246.83 436.00,247.50 C437.02,248.17 437.58,249.30 438.70,249.00 C439.82,248.70 441.48,245.70 442.70,245.70 C443.92,245.70 444.88,247.78 446.00,249.00 C447.12,250.22 448.48,252.53 449.40,253.00 C450.32,253.47 450.87,257.83 451.50,251.80 C452.13,245.77 452.55,222.53 453.20,216.80 C453.85,211.07 454.62,218.03 455.40,217.40 C456.18,216.77 457.08,210.90 457.90,213.00 C458.72,215.10 459.45,227.45 460.30,230.00 C461.15,232.55 462.18,228.13 463.00,228.30 C463.82,228.47 464.28,231.67 465.20,231.00 C466.12,230.33 467.42,224.30 468.50,224.30 C469.58,224.30 470.57,231.07 471.70,231.00 C472.83,230.93 473.93,220.98 475.30,223.90 C476.67,226.82 478.40,243.48 479.90,248.50 C481.40,253.52 482.62,252.92 484.30,254.00 C485.98,255.08 484.30,254.83 490.00,255.00 C504.28,255.17 555.88,255.40 570.00,255.00 C574.70,254.60 572.75,254.37 574.70,252.60 C576.65,250.83 579.75,250.83 581.70,244.40 C583.65,237.97 585.22,224.95 586.40,214.00 C587.58,203.05 588.18,191.03 588.80,178.70 C589.42,166.37 589.52,160.45 590.10,140.00 C590.68,119.55 591.60,63.43 592.30,56.00 C593.00,48.57 593.68,83.95 594.30,95.40 C594.92,106.85 595.35,122.18 596.00,124.70 C596.65,127.22 597.50,110.22 598.20,110.50 C598.90,110.78 599.58,123.95 600.20,126.40 C600.82,128.85 601.07,122.77 601.90,125.20 C602.73,127.63 604.25,136.78 605.20,141.00 C606.15,145.22 606.82,143.05 607.60,150.50 C608.38,157.95 609.12,174.35 609.90,185.70 C610.68,197.05 611.32,209.22 612.30,218.60 C613.28,227.98 614.43,236.52 615.80,242.00 C617.17,247.48 618.35,249.53 620.50,251.50 C622.65,253.47 625.45,253.30 628.70,253.80 C631.95,254.30 637.28,254.63 640.00,254.50 C642.72,254.37 643.67,253.00 645.00,253.00 C646.33,253.00 645.00,254.08 648.00,254.50 C652.83,254.92 669.67,255.33 674.00,255.50" fill="none" stroke="#EC9440" stroke-width="1.7" stroke-linejoin="round" stroke-linecap="round" />
<line x1="398.00" y1="43.70" x2="424.50" y2="43.70" stroke="#EC9440" stroke-width="1.6"/>
<text x="427" y="47.7" font-size="11" fill="#1e1e1e">80 mW/cm<tspan font-size="7" dy="-5.5" dx="0.6">2</tspan></text>
<line x1="398.00" y1="61.10" x2="424.50" y2="61.10" stroke="#1A1AC4" stroke-width="1.6"/>
<text x="427" y="65.1" font-size="11" fill="#1e1e1e">60 mW/cm<tspan font-size="7" dy="-5.5" dx="0.6">2</tspan></text>
<line x1="398.00" y1="78.50" x2="424.50" y2="78.50" stroke="#3BDE86" stroke-width="1.6"/>
<text x="427" y="82.5" font-size="11" fill="#1e1e1e">40 mW/cm<tspan font-size="7" dy="-5.5" dx="0.6">2</tspan></text>
<line x1="398.00" y1="95.90" x2="424.50" y2="95.90" stroke="#D42128" stroke-width="1.6"/>
<text x="427" y="99.9" font-size="11" fill="#1e1e1e">20 mW/cm<tspan font-size="7" dy="-5.5" dx="0.6">2</tspan></text>
<line x1="398.00" y1="113.30" x2="424.50" y2="113.30" stroke="#141414" stroke-width="1.6"/>
<text x="427" y="117.3" font-size="11" fill="#1e1e1e">10 &#160;mW/cm<tspan font-size="7" dy="-5.5" dx="0.6">2</tspan></text>
<line x1="633.20" y1="222.80" x2="633.20" y2="86.00" stroke="#000" stroke-width="1.5"/>
<polygon points="633.2,81.5 628.8,87.5 637.6,87.5" fill="#000"/>
<text font-size="7" x="573.1" y="34.0" fill="#1e1e1e">4</text>
<text font-size="11" x="576.4" y="39.7" fill="#1e1e1e">F</text>
<text font-size="7" x="583.5" y="44.1" fill="#1e1e1e">9/2</text>
<text font-size="7" x="614" y="34.0" fill="#1e1e1e">4</text>
<text font-size="11" x="617.6" y="39.7" fill="#1e1e1e">I</text>
<text font-size="7" x="621" y="44.1" fill="#1e1e1e">15/2</text>
<text font-size="7" x="402" y="182.9" fill="#1e1e1e">4</text>
<text font-size="11" x="405.1" y="188.6" fill="#1e1e1e">S</text>
<text font-size="7" x="413" y="193.0" fill="#1e1e1e">3/2,</text>
<text font-size="7" x="425.6" y="182.9" fill="#1e1e1e">2</text>
<text font-size="11" x="429.3" y="188.6" fill="#1e1e1e">H</text>
<text font-size="7" x="438.7" y="193.0" fill="#1e1e1e">11/2</text>
<text font-size="7" x="472" y="182.9" fill="#1e1e1e">4</text>
<text font-size="11" x="475" y="188.6" fill="#1e1e1e">I</text>
<text font-size="7" x="479" y="193.0" fill="#1e1e1e">15/2</text>
<line x1="595.00" y1="36.80" x2="608.00" y2="36.80" stroke="#1e1e1e" stroke-width="1.2"/>
<polygon points="610.5,36.8 605.5,34.5 605.5,39.1" fill="#1e1e1e"/>
<line x1="454.00" y1="186.00" x2="466.50" y2="186.00" stroke="#1e1e1e" stroke-width="1.2"/>
<polygon points="469,186 464,183.7 464,188.3" fill="#1e1e1e"/>
<g id="pc">
<rect x="42.2" y="317.1" width="280.1" height="235.10000000000002" fill="none" stroke="#1e1e1e" stroke-width="1.5"/>
<line x1="39.20" y1="542.94" x2="42.20" y2="542.94" stroke="#1e1e1e" stroke-width="1.3"/>
<line x1="39.20" y1="528.26" x2="42.20" y2="528.26" stroke="#1e1e1e" stroke-width="1.3"/>
<line x1="39.20" y1="516.87" x2="42.20" y2="516.87" stroke="#1e1e1e" stroke-width="1.3"/>
<line x1="39.20" y1="507.57" x2="42.20" y2="507.57" stroke="#1e1e1e" stroke-width="1.3"/>
<line x1="39.20" y1="499.70" x2="42.20" y2="499.70" stroke="#1e1e1e" stroke-width="1.3"/>
<line x1="39.20" y1="492.89" x2="42.20" y2="492.89" stroke="#1e1e1e" stroke-width="1.3"/>
<line x1="39.20" y1="486.88" x2="42.20" y2="486.88" stroke="#1e1e1e" stroke-width="1.3"/>
<line x1="37.20" y1="481.50" x2="42.20" y2="481.50" stroke="#1e1e1e" stroke-width="1.3"/>
<line x1="39.20" y1="446.13" x2="42.20" y2="446.13" stroke="#1e1e1e" stroke-width="1.3"/>
<line x1="39.20" y1="425.44" x2="42.20" y2="425.44" stroke="#1e1e1e" stroke-width="1.3"/>
<line x1="39.20" y1="410.76" x2="42.20" y2="410.76" stroke="#1e1e1e" stroke-width="1.3"/>
<line x1="39.20" y1="399.37" x2="42.20" y2="399.37" stroke="#1e1e1e" stroke-width="1.3"/>
<line x1="39.20" y1="390.07" x2="42.20" y2="390.07" stroke="#1e1e1e" stroke-width="1.3"/>
<line x1="39.20" y1="382.20" x2="42.20" y2="382.20" stroke="#1e1e1e" stroke-width="1.3"/>
<line x1="39.20" y1="375.39" x2="42.20" y2="375.39" stroke="#1e1e1e" stroke-width="1.3"/>
<line x1="39.20" y1="369.38" x2="42.20" y2="369.38" stroke="#1e1e1e" stroke-width="1.3"/>
<line x1="37.20" y1="364.00" x2="42.20" y2="364.00" stroke="#1e1e1e" stroke-width="1.3"/>
<line x1="39.20" y1="328.63" x2="42.20" y2="328.63" stroke="#1e1e1e" stroke-width="1.3"/>
<line x1="42.20" y1="552.20" x2="42.20" y2="557.20" stroke="#1e1e1e" stroke-width="1.3"/>
<line x1="60.54" y1="552.20" x2="60.54" y2="555.20" stroke="#1e1e1e" stroke-width="1.3"/>
<line x1="77.12" y1="552.20" x2="77.12" y2="555.20" stroke="#1e1e1e" stroke-width="1.3"/>
<line x1="92.27" y1="552.20" x2="92.27" y2="555.20" stroke="#1e1e1e" stroke-width="1.3"/>
<line x1="106.20" y1="552.20" x2="106.20" y2="555.20" stroke="#1e1e1e" stroke-width="1.3"/>
<line x1="119.09" y1="552.20" x2="119.09" y2="555.20" stroke="#1e1e1e" stroke-width="1.3"/>
<line x1="131.10" y1="552.20" x2="131.10" y2="555.20" stroke="#1e1e1e" stroke-width="1.3"/>
<line x1="142.33" y1="552.20" x2="142.33" y2="555.20" stroke="#1e1e1e" stroke-width="1.3"/>
<line x1="152.88" y1="552.20" x2="152.88" y2="555.20" stroke="#1e1e1e" stroke-width="1.3"/>
<line x1="162.83" y1="552.20" x2="162.83" y2="557.20" stroke="#1e1e1e" stroke-width="1.3"/>
<line x1="172.24" y1="552.20" x2="172.24" y2="555.20" stroke="#1e1e1e" stroke-width="1.3"/>
<line x1="181.17" y1="552.20" x2="181.17" y2="555.20" stroke="#1e1e1e" stroke-width="1.3"/>
<line x1="189.66" y1="552.20" x2="189.66" y2="555.20" stroke="#1e1e1e" stroke-width="1.3"/>
<line x1="197.76" y1="552.20" x2="197.76" y2="555.20" stroke="#1e1e1e" stroke-width="1.3"/>
<line x1="205.49" y1="552.20" x2="205.49" y2="555.20" stroke="#1e1e1e" stroke-width="1.3"/>
<line x1="212.90" y1="552.20" x2="212.90" y2="555.20" stroke="#1e1e1e" stroke-width="1.3"/>
<line x1="220.00" y1="552.20" x2="220.00" y2="555.20" stroke="#1e1e1e" stroke-width="1.3"/>
<line x1="226.83" y1="552.20" x2="226.83" y2="555.20" stroke="#1e1e1e" stroke-width="1.3"/>
<line x1="233.40" y1="552.20" x2="233.40" y2="557.20" stroke="#1e1e1e" stroke-width="1.3"/>
<line x1="239.73" y1="552.20" x2="239.73" y2="555.20" stroke="#1e1e1e" stroke-width="1.3"/>
<line x1="245.83" y1="552.20" x2="245.83" y2="555.20" stroke="#1e1e1e" stroke-width="1.3"/>
<line x1="251.73" y1="552.20" x2="251.73" y2="555.20" stroke="#1e1e1e" stroke-width="1.3"/>
<line x1="257.44" y1="552.20" x2="257.44" y2="555.20" stroke="#1e1e1e" stroke-width="1.3"/>
<line x1="262.97" y1="552.20" x2="262.97" y2="555.20" stroke="#1e1e1e" stroke-width="1.3"/>
<line x1="268.32" y1="552.20" x2="268.32" y2="555.20" stroke="#1e1e1e" stroke-width="1.3"/>
<line x1="273.52" y1="552.20" x2="273.52" y2="555.20" stroke="#1e1e1e" stroke-width="1.3"/>
<line x1="278.56" y1="552.20" x2="278.56" y2="555.20" stroke="#1e1e1e" stroke-width="1.3"/>
<line x1="283.47" y1="552.20" x2="283.47" y2="557.20" stroke="#1e1e1e" stroke-width="1.3"/>
<line x1="288.23" y1="552.20" x2="288.23" y2="555.20" stroke="#1e1e1e" stroke-width="1.3"/>
<line x1="292.87" y1="552.20" x2="292.87" y2="555.20" stroke="#1e1e1e" stroke-width="1.3"/>
<line x1="297.40" y1="552.20" x2="297.40" y2="555.20" stroke="#1e1e1e" stroke-width="1.3"/>
<line x1="301.80" y1="552.20" x2="301.80" y2="555.20" stroke="#1e1e1e" stroke-width="1.3"/>
<line x1="306.10" y1="552.20" x2="306.10" y2="555.20" stroke="#1e1e1e" stroke-width="1.3"/>
<line x1="310.29" y1="552.20" x2="310.29" y2="555.20" stroke="#1e1e1e" stroke-width="1.3"/>
<line x1="314.39" y1="552.20" x2="314.39" y2="555.20" stroke="#1e1e1e" stroke-width="1.3"/>
<line x1="318.39" y1="552.20" x2="318.39" y2="555.20" stroke="#1e1e1e" stroke-width="1.3"/>
<line x1="322.30" y1="552.20" x2="322.30" y2="557.20" stroke="#1e1e1e" stroke-width="1.3"/>
<text x="34.0" y="368.6" font-size="12" text-anchor="end" fill="#1e1e1e">10<tspan font-size="7.5" dy="-6.5">5</tspan></text>
<text x="34.0" y="486.1" font-size="12" text-anchor="end" fill="#1e1e1e">10<tspan font-size="7.5" dy="-6.5">4</tspan></text>
<text x="43.0" y="572.2" font-size="11.8" text-anchor="middle" fill="#1e1e1e">4x10<tspan font-size="7.5" dy="-6.3" dx="-0.3">1</tspan></text>
<text x="163.63250391635742" y="572.2" font-size="11.8" text-anchor="middle" fill="#1e1e1e">8x10<tspan font-size="7.5" dy="-6.3" dx="-0.3">1</tspan></text>
<text x="234.1979950755245" y="572.2" font-size="11.8" text-anchor="middle" fill="#1e1e1e">1.2x10<tspan font-size="7.5" dy="-6.3" dx="-0.3">2</tspan></text>
<text x="284.26500783271484" y="572.2" font-size="11.8" text-anchor="middle" fill="#1e1e1e">1.6x10<tspan font-size="7.5" dy="-6.3" dx="-0.3">2</tspan></text>
<text x="181.95" y="589.6" font-size="11.7" text-anchor="middle" fill="#1e1e1e">Pump power density(mW)</text>
<text x="0.00" y="0.00" font-size="11.5" text-anchor="middle" font-weight="normal" fill="#1e1e1e" transform="translate(11.700000000000003,443.0) rotate(-90)">Intensity(a.u.)</text>
<rect x="77.03" y="451.30" width="8" height="8" fill="#000"/>
<rect x="108.77" y="432.90" width="8" height="8" fill="#000"/>
<rect x="135.59" y="416.10" width="8" height="8" fill="#000"/>
<rect x="158.83" y="404.50" width="8" height="8" fill="#000"/>
<rect x="179.33" y="394.20" width="8" height="8" fill="#000"/>
<rect x="198.27" y="385.90" width="8" height="8" fill="#000"/>
<rect x="214.85" y="378.80" width="8" height="8" fill="#000"/>
<rect x="230.00" y="375.10" width="8" height="8" fill="#000"/>
<rect x="243.93" y="375.60" width="8" height="8" fill="#000"/>
<rect x="256.83" y="371.20" width="8" height="8" fill="#000"/>
<rect x="268.83" y="367.20" width="8" height="8" fill="#000"/>
<rect x="280.07" y="366.40" width="8" height="8" fill="#000"/>
<rect x="290.62" y="365.70" width="8" height="8" fill="#000"/>
<rect x="300.56" y="364.00" width="8" height="8" fill="#000"/>
<rect x="309.97" y="364.00" width="8" height="8" fill="#000"/>
<polygon points="81.03,513.70 86.63,519.30 81.03,524.90 75.43,519.30" fill="#7A0C86"/>
<polygon points="112.77,494.00 118.37,499.60 112.77,505.20 107.17,499.60" fill="#7A0C86"/>
<polygon points="139.59,474.90 145.19,480.50 139.59,486.10 133.99,480.50" fill="#7A0C86"/>
<polygon points="162.83,467.70 168.43,473.30 162.83,478.90 157.23,473.30" fill="#7A0C86"/>
<polygon points="183.33,447.60 188.93,453.20 183.33,458.80 177.73,453.20" fill="#7A0C86"/>
<polygon points="202.27,442.90 207.87,448.50 202.27,454.10 196.67,448.50" fill="#7A0C86"/>
<polygon points="218.85,434.20 224.45,439.80 218.85,445.40 213.25,439.80" fill="#7A0C86"/>
<polygon points="234.00,436.50 239.60,442.10 234.00,447.70 228.40,442.10" fill="#7A0C86"/>
<polygon points="247.93,434.90 253.53,440.50 247.93,446.10 242.33,440.50" fill="#7A0C86"/>
<polygon points="260.83,423.00 266.43,428.60 260.83,434.20 255.23,428.60" fill="#7A0C86"/>
<polygon points="272.83,422.10 278.43,427.70 272.83,433.30 267.23,427.70" fill="#7A0C86"/>
<polygon points="284.07,421.50 289.67,427.10 284.07,432.70 278.47,427.10" fill="#7A0C86"/>
<polygon points="294.62,419.90 300.22,425.50 294.62,431.10 289.02,425.50" fill="#7A0C86"/>
<polygon points="81.03,493.80 86.43,503.10 75.63,503.10" fill="#0B0BE8"/>
<polygon points="112.77,497.50 118.17,506.80 107.37,506.80" fill="#0B0BE8"/>
<polygon points="139.59,504.70 144.99,514.00 134.19,514.00" fill="#0B0BE8"/>
<polygon points="162.83,506.30 168.23,515.60 157.43,515.60" fill="#0B0BE8"/>
<polygon points="183.33,503.00 188.73,512.30 177.93,512.30" fill="#0B0BE8"/>
<polygon points="202.27,499.00 207.67,508.30 196.87,508.30" fill="#0B0BE8"/>
<polygon points="218.85,496.80 224.25,506.10 213.45,506.10" fill="#0B0BE8"/>
<polygon points="234.00,492.60 239.40,501.90 228.60,501.90" fill="#0B0BE8"/>
<polygon points="247.93,491.40 253.33,500.70 242.53,500.70" fill="#0B0BE8"/>
<polygon points="260.83,398.70 266.23,408.00 255.43,408.00" fill="#0B0BE8"/>
<polygon points="272.83,398.70 278.23,408.00 267.43,408.00" fill="#0B0BE8"/>
<polygon points="284.07,398.70 289.47,408.00 278.67,408.00" fill="#0B0BE8"/>
<polygon points="294.62,397.60 300.02,406.90 289.22,406.90" fill="#0B0BE8"/>
<polygon points="304.56,397.60 309.96,406.90 299.16,406.90" fill="#0B0BE8"/>
<polygon points="313.97,398.70 319.37,408.00 308.57,408.00" fill="#0B0BE8"/>
<line x1="57.70" y1="464.10" x2="264.30" y2="359.40" stroke="#3FDDA0" stroke-width="1.5"/>
<line x1="59.20" y1="530.20" x2="249.00" y2="420.50" stroke="#3FDDA0" stroke-width="1.5"/>
<polygon points="64.0,331.0 69.3,338.8 58.7,338.8" fill="#0B0BE8"/>
<polygon points="64.0,345.6 69.6,351.0 64.0,356.40000000000003 58.4,351.0" fill="#7A0C86"/>
<rect x="60.3" y="362.8" width="7.5" height="7.5" fill="#000"/>
<text x="80.2" y="339.90000000000003" font-size="11.5" fill="#1e1e1e">Yb 98%</text>
<text x="80.2" y="354.90000000000003" font-size="11.5" fill="#1e1e1e">Yb 10%</text>
<text x="135.2" y="354.90000000000003" font-size="11.5" fill="#1e1e1e">n=1.99</text>
<text x="80.2" y="369.90000000000003" font-size="11.5" fill="#1e1e1e">Yb 5 %</text>
<text x="135.2" y="369.90000000000003" font-size="11.5" fill="#1e1e1e">n=1.73</text>
</g>
<use href="#pc" transform="translate(385.8,-0.6) scale(1.026,1) translate(-42.2,0)"/>
</svg></body></html>
